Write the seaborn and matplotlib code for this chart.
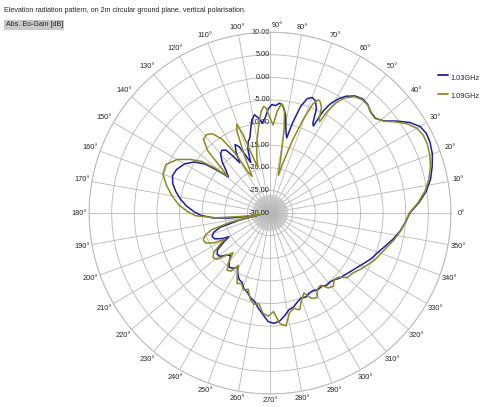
import numpy as np
import pandas as pd
import seaborn as sns
import matplotlib
matplotlib.use("Agg")
import matplotlib.pyplot as plt

# 1.03 GHz (angle en degres, gain en dB)
blue_deg = [0, 4, 8, 12, 16, 20, 24, 27, 30, 33, 36, 39, 42, 45, 48, 51, 54, 57, 59, 61,
            62.5, 63.5, 64.5, 66, 68, 70, 72, 74, 76, 77.5, 79, 81, 83, 85, 87, 89, 91, 93,
            95, 97, 99, 101, 103, 105, 107, 109, 111, 113, 115, 117, 119, 121, 123, 125,
            127.5, 130, 133, 136, 139, 141, 143, 146, 150, 155, 159, 163, 167, 171, 175,
            179, 182, 185, 187, 189, 191, 193, 196, 199, 202, 205, 208, 210, 212, 215, 218,
            221, 224, 227, 230, 233, 236, 239, 242, 245, 248, 251, 254, 257, 260, 263, 266,
            269, 272, 275, 278, 281, 284, 287, 290, 293, 296, 299, 302, 305, 308, 311, 314,
            317, 320, 324, 328, 332, 336, 340, 344, 348, 352, 356, 360]
blue_db = [0.9, 3.0, 4.9, 6.3, 7.3, 8.2, 8.7, 8.8, 8.3, 6.8, 4.6, 2.4, 1.3, 1.5, 2.3, 2.5,
           2.0, 0.8, -0.5, -2.3, -4.5, -8.5, -8.0, -4.8, -3.2, -2.8, -3.4, -5.5, -9.5, -13.0,
           -11.5, -8.0, -6.2, -5.6, -6.2, -6.0, -7.0, -9.0, -10.0, -8.8, -8.0, -9.0, -11.0,
           -12.8, -13.5, -15.0, -18.0, -16.0, -13.8, -13.0, -14.5, -17.0, -15.0, -13.0,
           -12.5, -13.0, -14.5, -16.5, -17.8, -15.0, -12.0, -9.8, -8.2, -7.2, -6.9, -7.5,
           -8.6, -9.9, -11.4, -13.2, -14.8, -17.5, -21.0, -26.0, -27.0, -23.0, -18.5, -16.8,
           -16.2, -16.5, -18.0, -19.5, -18.0, -15.8, -15.2, -15.4, -16.6, -17.2, -16.0,
           -15.0, -15.3, -16.0, -14.8, -13.8, -13.5, -12.3, -11.8, -10.8, -10.2, -8.8, -7.5,
           -6.0, -5.6, -6.0, -7.0, -8.2, -8.6, -9.4, -10.0, -9.8, -10.3, -10.4, -10.0,
           -10.2, -9.7, -9.8, -9.5, -8.9, -8.6, -8.0, -7.3, -6.4, -5.4, -4.6, -3.5, -2.2,
           -1.0, 0.0, 0.9]

# 1.09 GHz
olive_deg = [0, 4, 8, 12, 16, 20, 24, 27, 30, 33, 36, 39, 42, 45, 48, 51, 54, 57, 59, 60.5,
             61.5, 62.5, 64, 66, 67, 68.5, 70.5, 73, 75.5, 77.5, 79, 80.5, 82, 84, 86, 88, 90,
             92, 93.5, 95, 97, 99, 101, 103, 105, 107, 109, 110.5, 112, 114, 116, 118, 120,
             123, 126, 129, 132, 135, 137, 139, 141, 143, 146, 150, 155, 160, 165, 170, 175,
             179, 182, 185, 187, 189, 191, 193, 196, 199, 202, 205, 208, 210, 212, 215, 218,
             221, 224, 227, 230, 233, 236, 239, 242, 245, 248, 251, 254, 257, 260, 263, 266,
             269, 272, 275, 278, 281, 284, 287, 290, 293, 296, 299, 302, 305, 308, 311, 314,
             317, 320, 324, 328, 332, 336, 340, 344, 348, 352, 356, 360]
olive_db = [0.8, 2.8, 4.6, 5.9, 6.9, 7.6, 8.0, 8.0, 7.5, 6.2, 4.3, 2.3, 1.4, 1.6, 2.2, 2.3,
            1.8, 0.4, -1.5, -4.0, -7.0, -6.5, -4.0, -2.9, -2.8, -4.0, -8.0, -13.5, -18.5,
            -21.5, -17.5, -11.0, -7.0, -5.6, -7.5, -10.5, -9.0, -6.8, -6.4, -7.5, -10.0,
            -12.5, -14.5, -17.0, -19.5, -17.0, -11.5, -9.0, -10.5, -16.0, -21.0, -20.0,
            -15.0, -10.5, -8.3, -7.7, -8.0, -10.5, -15.0, -17.5, -14.0, -11.0, -8.8, -6.3,
            -4.6, -4.8, -6.3, -8.0, -9.8, -11.8, -13.5, -18.0, -24.0, -28.0, -26.0, -21.0,
            -16.5, -14.8, -14.1, -14.3, -16.0, -18.5, -17.0, -14.8, -14.0, -14.4, -16.5,
            -18.0, -15.8, -14.2, -14.5, -16.5, -14.5, -12.8, -13.2, -12.0, -12.5, -10.5,
            -9.5, -9.8, -7.8, -7.2, -8.2, -5.5, -4.8, -7.5, -8.3, -7.6, -9.6, -10.8, -9.0,
            -8.6, -10.2, -10.5, -9.0, -8.6, -9.6, -9.2, -7.8, -7.4, -6.5, -5.6, -4.6, -3.9,
            -3.0, -1.9, -0.9, 0.0, 0.8]

freq_labels = ["1.03GHz", "1.09GHz"]
colors = ["#1c1ca8", "#8a8a1e"]
r_ticks = [-30, -25, -20, -15, -10, -5, 0, 5, 10]
angle_ticks = list(range(0, 360, 10))

df = pd.concat([
    pd.DataFrame({"theta": np.deg2rad(blue_deg), "gain": blue_db, "freq": freq_labels[0]}),
    pd.DataFrame({"theta": np.deg2rad(olive_deg), "gain": olive_db, "freq": freq_labels[1]}),
], ignore_index=True)

sns.set_style("white")
plt.rcParams["font.family"] = ["Liberation Sans", "DejaVu Sans"]
grid_col = "#b8b8b8"
fs = 5.3

fig = plt.figure(figsize=(4.82, 4.07), dpi=100)
ax = fig.add_axes([0.1847, 0.032, 0.751, 0.889], projection="polar")
rmin, rmax = -30, 10
px_per_db = 181 / (rmax - rmin)

# rayons fins pres du centre
for a in np.arange(0, 360, 2.5):
    if a % 10:
        ax.plot([np.deg2rad(a)] * 2, [-30, -26], color=grid_col, lw=0.4, zorder=0)

sns.lineplot(data=df, x="theta", y="gain", hue="freq", palette=colors, ax=ax,
             sort=False, estimator=None, legend=False, linewidth=1.1, zorder=3)

ax.set_ylim(rmin, rmax)
ax.set_yticks(r_ticks)
ax.set_yticklabels([])
ax.set_thetagrids(angle_ticks, labels=[""] * len(angle_ticks))
ax.grid(True, color=grid_col, lw=0.6)
ax.spines["polar"].set_color(grid_col)
ax.spines["polar"].set_linewidth(0.7)
ax.set_xlabel("")
ax.set_ylabel("")

# etiquettes d'angle, juste hors du cercle
for a in angle_ticks:
    t = np.deg2rad(a)
    off = 4 + 6 * abs(np.cos(t)) + 2.5 * abs(np.sin(t))
    x_shift = 7 if a == 90 else 0
    r = rmax + off / px_per_db
    ax.annotate(f"{a}°", xy=(t, r), xytext=(x_shift, 0), textcoords="offset pixels",
                ha="center", va="center", fontsize=fs, annotation_clip=False)

for r in r_ticks:
    ax.text(np.pi / 2, r, f"{r:.2f}", ha="right", va="center", fontsize=fs, zorder=2)

fig.text(0.008, 0.982, "Elevation radiation pattern, on 2m circular ground plane, vertical polarisation.",
         fontsize=5.1, ha="left", va="top")
fig.text(0.012, 0.948, "Abs. Eo-Gain [dB]", fontsize=5.1, ha="left", va="top",
         bbox=dict(facecolor="#c8c8c8", edgecolor="none", pad=1.0))

# legende
for i, (lab, c) in enumerate(zip(freq_labels, colors)):
    y = 0.815 - i * 0.045
    fig.add_artist(plt.Line2D([0.908, 0.930], [y, y], color=c, lw=1.3))
    fig.text(0.935, y - 0.008, lab, fontsize=fs, ha="left", va="center")

plt.savefig("out.png", dpi=100)
